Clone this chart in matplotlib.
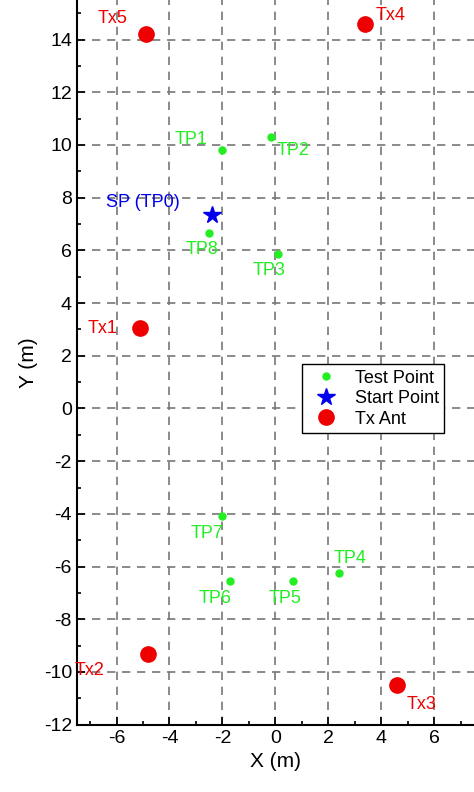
import matplotlib.pyplot as plt
from matplotlib.ticker import MultipleLocator

plt.rcParams['font.family'] = ['Liberation Sans', 'DejaVu Sans']
plt.rcParams['axes.unicode_minus'] = False

# Test points
tp_names = ['TP1', 'TP2', 'TP3', 'TP4', 'TP5', 'TP6', 'TP7', 'TP8']
tp_x = [-2.0, -0.15, 0.1, 2.4, 0.65, -1.7, -2.0, -2.5]
tp_y = [9.8, 10.3, 5.85, -6.25, -6.55, -6.55, -4.1, 6.65]
tp_off = [(-1.8, 0.4), (0.2, -0.5), (-0.95, -0.6), (-0.2, 0.55), (-0.9, -0.65),
          (-1.2, -0.65), (-1.2, -0.65), (-0.9, -0.6)]

# Start point
sp_x, sp_y = -2.4, 7.35

# Tx antennas
tx_names = ['Tx1', 'Tx2', 'Tx3', 'Tx4', 'Tx5']
tx_x = [-5.1, -4.8, 4.6, 3.4, -4.9]
tx_y = [3.05, -9.3, -10.5, 14.6, 14.2]
tx_off = [(-2.0, 0.0), (-2.8, -0.65), (0.35, -0.75), (0.4, 0.3), (-1.8, 0.6)]

fig = plt.figure(figsize=(4.74, 7.92), dpi=100)
ax = fig.add_axes([0.162, 0.085, 0.838, 0.915])

ax.plot(tp_x, tp_y, 'o', color='#22ee22', markersize=5, label='Test Point', zorder=3)
ax.plot([sp_x], [sp_y], '*', color='#0000ee', markersize=13, label='Start Point', zorder=3)
ax.plot(tx_x, tx_y, 'o', color='#ee0000', markersize=11, label='Tx Ant', zorder=3)

fs = 13
for n, x, y, (dx, dy) in zip(tp_names, tp_x, tp_y, tp_off):
    ax.text(x + dx, y + dy, n, color='#22ee22', fontsize=fs, va='center')
for n, x, y, (dx, dy) in zip(tx_names, tx_x, tx_y, tx_off):
    ax.text(x + dx, y + dy, n, color='#ee0000', fontsize=fs, va='center')
ax.text(sp_x - 4.0, sp_y + 0.45, 'SP (TP0)', color='#0000ee', fontsize=fs, va='center')

ax.set_xlim(-7.5, 7.5)
ax.set_ylim(-12, 15.5)
ax.xaxis.set_major_locator(MultipleLocator(2))
ax.xaxis.set_minor_locator(MultipleLocator(1))
ax.yaxis.set_major_locator(MultipleLocator(2))
ax.yaxis.set_minor_locator(MultipleLocator(1))
ax.tick_params(which='both', direction='in', labelsize=14, width=1.2)
ax.tick_params(which='major', length=6)
ax.tick_params(which='minor', length=3)
ax.spines['top'].set_visible(False)
ax.spines['right'].set_visible(False)
ax.spines['left'].set_linewidth(1.5)
ax.spines['bottom'].set_linewidth(1.5)
ax.grid(True, linestyle=(0, (5, 4)), color='#777777', linewidth=1.2)
ax.set_xlabel('X (m)', fontsize=15)
ax.set_ylabel('Y (m)', fontsize=15)

ax.legend(loc='upper left', bbox_to_anchor=(0.545, 0.51), fontsize=13, frameon=True,
          fancybox=False, edgecolor='black', handletextpad=0.6, borderpad=0.3,
          labelspacing=0.2, framealpha=1)

fig.savefig('out.png', dpi=100)
